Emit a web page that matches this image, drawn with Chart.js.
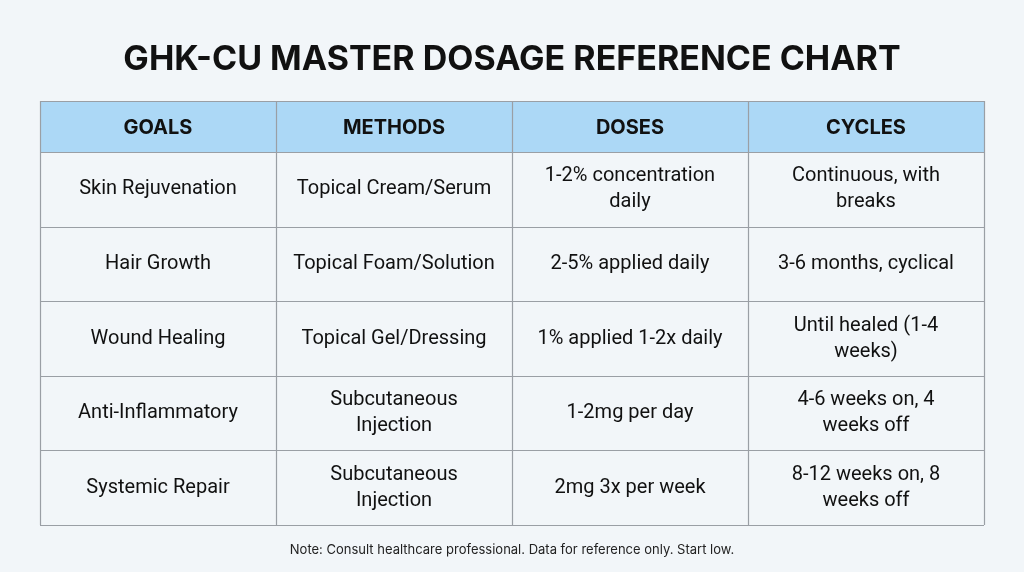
<!DOCTYPE html>
<html><head><meta charset="utf-8">
<script src="https://cdn.jsdelivr.net/npm/chart.js@4"></script>
<style>html,body{margin:0;padding:0;background:#f2f6f9;}#wrap{width:1024px;height:572px;position:relative}</style>
</head><body><div id="wrap"><canvas id="c" width="1024" height="572"></canvas></div>
<script>
const titleText = "GHK-CU MASTER DOSAGE REFERENCE CHART";
const noteText = "Note: Consult healthcare professional. Data for reference only. Start low.";
const columns = ["GOALS","METHODS","DOSES","CYCLES"];
const goals = ["Skin Rejuvenation","Hair Growth","Wound Healing","Anti-Inflammatory","Systemic Repair"];
const methods = ["Topical Cream/Serum","Topical Foam/Solution","Topical Gel/Dressing","Subcutaneous\nInjection","Subcutaneous\nInjection"];
const doses = ["1-2% concentration\ndaily","2-5% applied daily","1% applied 1-2x daily","1-2mg per day","2mg 3x per week"];
const cycles = ["Continuous, with\nbreaks","3-6 months, cyclical","Until healed (1-4\nweeks)","4-6 weeks on, 4\nweeks off","8-12 weeks on, 8\nweeks off"];
const headerH = 0.685;
const body = [goals, methods, doses, cycles];

const tablePlugin = {
  id:'table',
  beforeDraw(chart){
    const {ctx, scales:{x,y}} = chart;
    ctx.save();
    ctx.fillStyle='#f2f6f9';ctx.fillRect(0,0,chart.width,chart.height);
    ctx.fillStyle='#111';ctx.textAlign='center';ctx.textBaseline='middle';
    ctx.font='bold 34px Inter, Roboto, sans-serif';
    ctx.fillText(titleText,512,60);
    ctx.font='13px Inter, Roboto, sans-serif';ctx.fillStyle='#222';
    ctx.fillText(noteText,512,550);
    const rowsB=[0,headerH]; for(let i=1;i<=goals.length;i++) rowsB.push(headerH+i);
    // header fill
    ctx.fillStyle='#acd8f6';
    ctx.fillRect(x.getPixelForValue(0),y.getPixelForValue(0),x.getPixelForValue(columns.length)-x.getPixelForValue(0),y.getPixelForValue(headerH)-y.getPixelForValue(0));
    ctx.strokeStyle='#9a9fa5';ctx.lineWidth=1.2;
    for(const r of rowsB){const py=Math.round(y.getPixelForValue(r))+0.5;ctx.beginPath();ctx.moveTo(x.getPixelForValue(0),py);ctx.lineTo(x.getPixelForValue(columns.length),py);ctx.stroke();}
    for(let c=0;c<=columns.length;c++){const px=Math.round(x.getPixelForValue(c))+0.5;ctx.beginPath();ctx.moveTo(px,y.getPixelForValue(0));ctx.lineTo(px,y.getPixelForValue(rowsB[rowsB.length-1]));ctx.stroke();}
    ctx.fillStyle='#111';
    ctx.font='bold 20px Inter, Roboto, sans-serif';
    columns.forEach((h,c)=>ctx.fillText(h,x.getPixelForValue(c+0.5),y.getPixelForValue(headerH/2)+1));
    ctx.font='20px Roboto, Inter, sans-serif';
    body.forEach((col,c)=>col.forEach((t,r)=>{
      const cx=x.getPixelForValue(c+0.5), cy=y.getPixelForValue(headerH+r+0.5);
      const lines=t.split('\n'); const lh=26;
      lines.forEach((l,i)=>ctx.fillText(l,cx,cy+(i-(lines.length-1)/2)*lh));
    }));
    ctx.restore();
  }
};
new Chart(document.getElementById('c'),{
  type:'scatter',
  data:{datasets:[{data:[],pointRadius:0}]},
  options:{responsive:false,animation:false,
    layout:{padding:{left:40,right:40,top:101,bottom:47}},
    plugins:{legend:{display:false},tooltip:{enabled:false}},
    scales:{x:{type:'linear',min:0,max:columns.length,display:false},
            y:{type:'linear',min:0,max:headerH+goals.length,reverse:true,display:false}}},
  plugins:[tablePlugin]
});
</script></body></html>
